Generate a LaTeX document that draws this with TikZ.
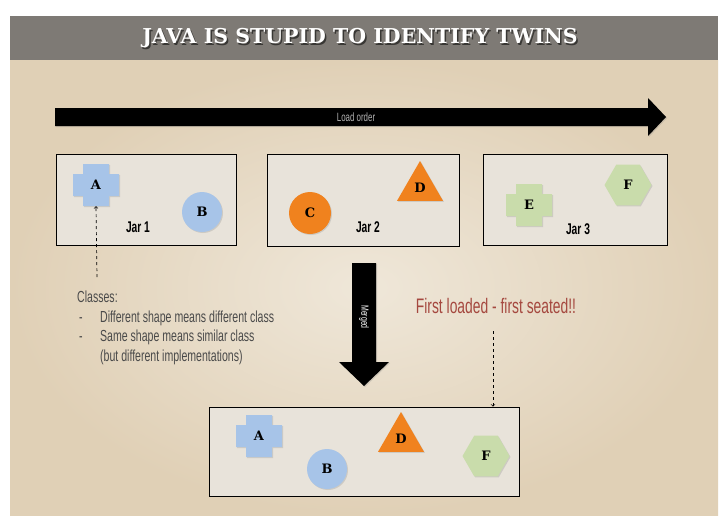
\documentclass[tikz,border=0pt]{standalone}
\usepackage{fontspec}
\usetikzlibrary{shapes.geometric,shadows}
\newfontfamily\titlefont{DejaVu Serif}
\newfontfamily\narrowfont[FakeStretch=0.66]{Liberation Sans}
\definecolor{paperlight}{HTML}{EFE7D9}
\definecolor{paperdark}{HTML}{E0D0B6}
\definecolor{bargray}{HTML}{7E7A75}
\definecolor{boxfill}{HTML}{E8E3DA}
\definecolor{clsblue}{HTML}{A7C4E8}
\definecolor{clsorange}{HTML}{F0821E}
\definecolor{clsgreen}{HTML}{C9DCAB}
\definecolor{notegray}{HTML}{4A4A4A}
\definecolor{seatred}{HTML}{A5483F}

% plus shaped class: name, centre, colour, letter
\newcommand\plusnode[4]{%
  \fill[#3, drop shadow={opacity=.25, shadow xshift=1pt, shadow yshift=-1pt}, shift={(#2)}]
    (-13,-21) -- (13,-21) -- (13,-11) -- (23,-11) -- (23,11) -- (13,11)
    -- (13,21) -- (-13,21) -- (-13,11) -- (-23,11) -- (-23,-11) -- (-13,-11) -- cycle;
  \node[vbar] (#1) at (#2) {#4};
}

\begin{document}
\begin{tikzpicture}[x=1pt, y=-1pt,
    jar/.style={draw=black, line width=0.8pt, fill=boxfill, inner sep=0},
    letter/.style={font=\titlefont\bfseries\fontsize{13}{13}\selectfont, text=black},
    shadowed/.style={drop shadow={opacity=.25, shadow xshift=1pt, shadow yshift=-1pt}},
    roundcls/.style={circle, minimum size=40pt, inner sep=0, letter, shadowed},
    tricls/.style={regular polygon, regular polygon sides=3, minimum size=53pt, inner sep=0, letter, shadowed},
    hexcls/.style={regular polygon, regular polygon sides=6, minimum size=47pt, inner sep=0, letter, shadowed},
    vbar/.style={rectangle, minimum width=26pt, minimum height=42pt, inner sep=0, letter},
    jarlabel/.style={font=\narrowfont\bfseries\fontsize{15.5}{15.5}\selectfont},
    note/.style={font=\narrowfont\fontsize{16}{19.5}\selectfont, text=notegray, inner sep=0},
    hint/.style={dashed, line width=0.7pt, ->}]

  % background
  \fill[white] (0,0) rectangle (728,515);
  \shade[inner color=paperlight, outer color=paperdark] (10,60) rectangle (718,515);
  \fill[bargray] (10,16) rectangle (718,60);
  \node[font=\titlefont\bfseries\fontsize{20.5}{20.5}\selectfont, text=black, opacity=.55] (titleshadow)
    at (361.5,40) {JAVA IS STUPID TO IDENTIFY TWINS};
  \node[font=\titlefont\bfseries\fontsize{20.5}{20.5}\selectfont, text=white] (title)
    at (360,38.5) {JAVA IS STUPID TO IDENTIFY TWINS};

  % load order arrow
  \fill[shadowed, black] (55,108) -- (648,108) -- (648,98) -- (666,117) -- (648,136)
    -- (648,126) -- (55,126) -- cycle;
  \node[font=\narrowfont\fontsize{12}{12}\selectfont, text=black!30] (loadorder) at (356,117) {Load order};

  % jars
  \node[jar, minimum width=180pt, minimum height=91pt] (jar1) at (146,199.5) {};
  \node[jar, minimum width=192pt, minimum height=92pt] (jar2) at (363,200) {};
  \node[jar, minimum width=184pt, minimum height=91pt] (jar3) at (575,199.5) {};
  \node[jarlabel] (jar1label) at (138,227) {Jar 1};
  \node[jarlabel] (jar2label) at (368,227) {Jar 2};
  \node[jarlabel] (jar3label) at (578,229) {Jar 3};

  \plusnode{A1}{96,185}{clsblue}{A}
  \node[roundcls, fill=clsblue] (B1) at (202,212) {B};
  \node[roundcls, fill=clsorange, minimum size=42pt] (C2) at (310,213) {C};
  \node[tricls, fill=clsorange] (D2) at (420,187.5) {D};
  \plusnode{E3}{529,205}{clsgreen}{E}
  \node[hexcls, fill=clsgreen] (F3) at (628,185) {F};

  % notes
  \coordinate (classtip) at (97,277);
  \draw[hint] (classtip) -- (A1.south);
  \node[note, anchor=north west] (classes) at (77,289) {%
    \begin{tabular}{@{}p{23pt}@{}l@{}}
      \multicolumn{2}{@{}l}{Classes:}\\
      \hspace{2pt}- & Different shape means different class\\
      \hspace{2pt}- & Same shape means similar class\\
                    & (but different implementations)
    \end{tabular}};

  % merged arrow
  \fill[shadowed, black] (352,263) -- (376,263) -- (376,362) -- (389,362) -- (364,386)
    -- (339,362) -- (352,362) -- cycle;
  \node[font=\narrowfont\fontsize{10.5}{10.5}\selectfont, text=white, rotate=-90] (merged) at (364,317) {Merged};

  \node[font=\narrowfont\fontsize{21}{21}\selectfont, text=seatred] (seated) at (496,306) {First loaded - first seated!!};

  % merged jar
  \node[jar, minimum width=310pt, minimum height=89pt] (result) at (364,451.5) {};
  \coordinate (seattip) at (493,331);
  \draw[hint] (seattip) -- (seattip |- result.north);

  \plusnode{A}{259,436}{clsblue}{A}
  \node[roundcls, fill=clsblue] (B) at (327,469) {B};
  \node[tricls, fill=clsorange] (D) at (401,438.5) {D};
  \node[hexcls, fill=clsgreen] (F) at (486,456) {F};
\end{tikzpicture}
\end{document}
